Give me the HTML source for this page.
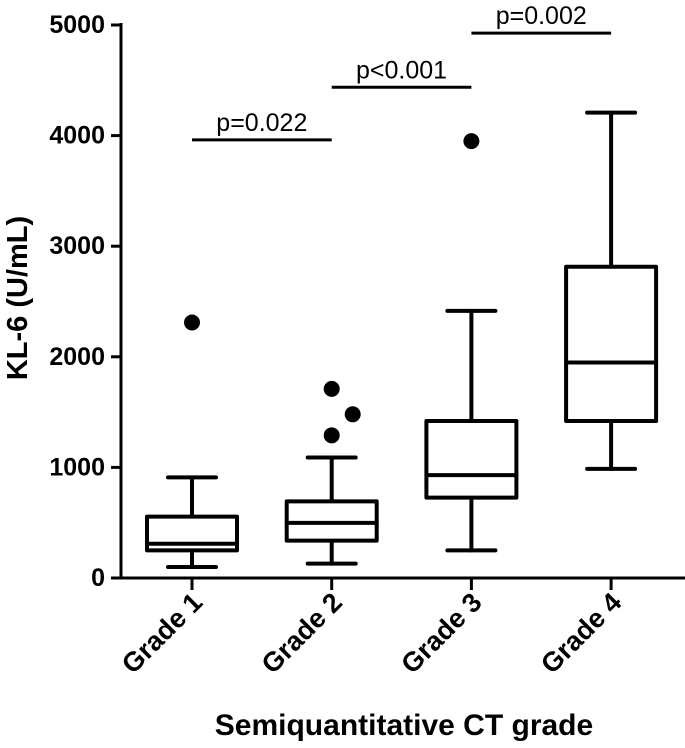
<!DOCTYPE html>
<html><head><meta charset="utf-8"><style>
body{margin:0;background:#fff}
svg{display:block;font-family:"Liberation Sans",Arial,sans-serif}
</style></head><body>
<svg id="chart" width="685" height="748" viewBox="0 0 685 748"></svg>
<script>
const categories=["Grade 1","Grade 2","Grade 3","Grade 4"];
const whiskerLow=[100,130,250,987];
const q1=[250,338,727,1420];
const medians=[310,498,930,1948];
const q3=[555,693,1420,2814];
const whiskerHigh=[910,1090,2415,4208];
const outlierGroup=[0,1,1,1,2];
const outlierValue=[2310,1290,1480,1710,3950];
const outlierOffset=[0,0,1,0,0];
const yTicks=[0,1000,2000,3000,4000,5000];
const sigFrom=[0,1,2];
const sigTo=[1,2,3];
const sigY=[3961,4437,4926];
const sigLabels=["p=0.022","p<0.001","p=0.002"];

const NS="http://www.w3.org/2000/svg";
const svg=document.getElementById('chart');
const y=v=>578-v*(553/5000);
const x=i=>192+i*139.7;
function el(t,a,p){const e=document.createElementNS(NS,t);for(const k in a)e.setAttribute(k,a[k]);(p||svg).appendChild(e);return e;}
const S={stroke:"#000","stroke-width":4,fill:"none","stroke-linecap":"round"};

let ax=el('line',{x1:121,y1:23,x2:121,y2:578,stroke:"#000","stroke-width":3});


let axx=el('line',{x1:121,y1:578,x2:685,y2:578,stroke:"#000","stroke-width":3});


yTicks.forEach(v=>{
  let t=el('line',{x1:111,y1:y(v),x2:121,y2:y(v),stroke:"#000","stroke-width":3});
  
  
  let l=el('text',{x:105,y:y(v)+8,"text-anchor":"end","font-size":25,"font-weight":"bold"});
  l.textContent=v;
  
  
});
categories.forEach((c,i)=>{
  let t=el('line',{x1:x(i),y1:578,x2:x(i),y2:590,stroke:"#000","stroke-width":3});
  
  
  let l=el('text',{x:0,y:0,"text-anchor":"end","font-size":27,"font-weight":"bold",transform:`translate(${x(i)+12},${604}) rotate(-45)`});
  l.textContent=c;
  
  
  const g=el('g',{});
  
  
  const cx=x(i),hw=45,cw=24;
  el('line',{...S,x1:cx,y1:y(whiskerLow[i]),x2:cx,y2:y(q1[i])},g);
  el('line',{...S,x1:cx,y1:y(q3[i]),x2:cx,y2:y(whiskerHigh[i])},g);
  el('line',{...S,x1:cx-cw,y1:y(whiskerLow[i]),x2:cx+cw,y2:y(whiskerLow[i])},g);
  el('line',{...S,x1:cx-cw,y1:y(whiskerHigh[i]),x2:cx+cw,y2:y(whiskerHigh[i])},g);
  el('rect',{...S,"stroke-linejoin":"round",x:cx-hw,y:y(q3[i]),width:2*hw,height:y(q1[i])-y(q3[i]),fill:"#fff"},g);
  el('line',{...S,x1:cx-hw,y1:y(medians[i]),x2:cx+hw,y2:y(medians[i])},g);
});
outlierValue.forEach((v,k)=>{
  let c=el('circle',{cx:x(outlierGroup[k])+outlierOffset[k]*21,cy:y(v),r:8,fill:"#000"});
  
  
});
sigLabels.forEach((s,k)=>{
  let l=el('line',{x1:x(sigFrom[k]),y1:y(sigY[k]),x2:x(sigTo[k]),y2:y(sigY[k]),stroke:"#000","stroke-width":3});
  
  
  let t=el('text',{x:(x(sigFrom[k])+x(sigTo[k]))/2,y:y(sigY[k])-9,"text-anchor":"middle","font-size":25});
  t.textContent=s;
  
  
});
let yt=el('text',{x:0,y:0,"text-anchor":"middle","font-size":29,"font-weight":"bold",transform:"translate(27,298) rotate(-90)"});
yt.textContent="KL-6 (U/mL)";


let xt=el('text',{x:404,y:735,"text-anchor":"middle","font-size":30,"font-weight":"bold"});
xt.textContent="Semiquantitative CT grade";


</script>
</body></html>
